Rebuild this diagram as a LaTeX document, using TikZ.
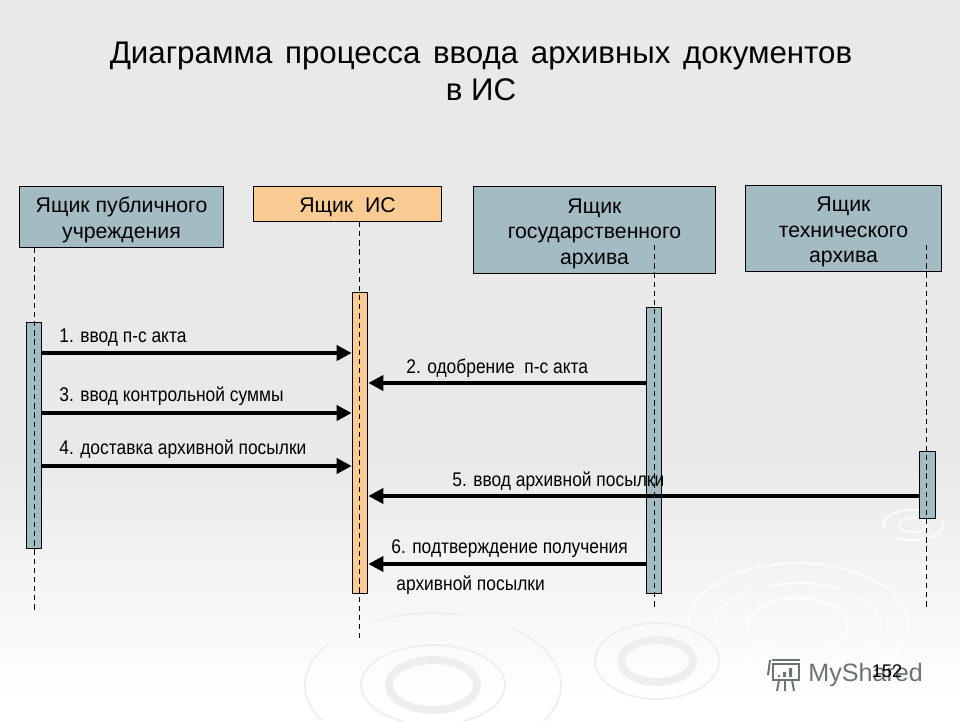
\documentclass[tikz,border=0pt]{standalone}
\usepackage{fontspec}
\usetikzlibrary{arrows.meta}
\setmainfont{Liberation Sans}
\newfontfamily\lblfont[FakeStretch=0.88]{Liberation Sans}
\definecolor{boxblue}{HTML}{A3BBC2}
\definecolor{boxorange}{HTML}{FBCB94}
\definecolor{slidegray}{HTML}{E9E9E9}
\definecolor{ringgray}{HTML}{EEEEEE}
\definecolor{logogray}{HTML}{6A7474}
\def\lowr{\rule{0pt}{12.4pt}}
\tikzset{
	box/.style={draw=black,line width=0.6pt,align=center,inner sep=0pt,font=\fontsize{12.1}{14.5}\selectfont},
	bar/.style={draw=black,line width=0.5pt,minimum width=9pt,inner sep=0pt},
	lifeline/.style={draw=black,line width=0.55pt,dash pattern=on 3pt off 2.2pt},
	msg/.style={draw=black,line width=2.8pt,-{Triangle[length=8.5pt,width=8.5pt]}},
	lbl/.style={anchor=west,inner sep=0pt,font=\lblfont\fontsize{11.25}{13}\selectfont},
	title/.style={align=center,inner sep=0pt,font=\fontsize{17.8}{21.5}\selectfont},
	ring/.style={draw=white,line width=1.3pt,line cap=round,opacity=0.75},
	softring/.style={draw=ringgray,line cap=round}
}
\begin{document}
\begin{tikzpicture}[x=0.02cm,y=-0.02cm]
	\useasboundingbox (0,0) rectangle (960,720);
	% background
	\fill[slidegray] (0,0) rectangle (960,460);
	\shade[top color=slidegray,bottom color=white] (0,460) rectangle (960,695);
	\fill[white] (0,695) rectangle (960,720);
	% ripples
	\draw[ring,dash pattern=on 60pt off 4pt] (798,625) ellipse (110 and 62);
	\draw[ring,dash pattern=on 40pt off 12pt] (798,625) ellipse (83 and 42);
	\draw[ring,line width=1.8pt] (798,625) ellipse (50 and 27);
	\draw[softring,line width=4.5pt] (657,661) ellipse (36 and 21);
	\draw[softring,line width=1pt] (657,661) ellipse (62 and 38);
	\draw[ring,dash pattern=on 30pt off 10pt] (913,525) ellipse (30 and 15);
	\draw[ring,line width=1pt] (913,525) ellipse (14 and 7);
	\draw[softring,line width=4.5pt] (433,685) ellipse (44 and 25);
	\draw[softring,line width=1pt] (433,685) ellipse (72 and 40);
	\draw[softring,line width=1pt,dash pattern=on 50pt off 30pt] (433,685) ellipse (128 and 72);
	% boxes
	\node[box,fill=boxblue,minimum width=116.2pt,minimum height=35.1pt] (boxPub) at (121.5,217) {\lowr Ящик публичного\\учреждения};
	\node[box,fill=boxorange,minimum width=107.1pt,minimum height=20.4pt] (boxIS) at (347.5,204) {\lowr Ящик\ \ ИС};
	\node[box,fill=boxblue,minimum width=137.8pt,minimum height=49.9pt] (boxState) at (594.5,230) {\lowr Ящик\\государственного\\архива};
	\node[box,fill=boxblue,minimum width=111.7pt,minimum height=49.3pt] (boxTech) at (843.5,228.5) {\lowr Ящик\\технического\\архива};
	% bars
	\node[bar,fill=boxblue,minimum height=128.7pt] (barPub) at (34,435.5) {};
	\node[bar,fill=boxorange,minimum height=171.2pt] (barIS) at (360,443) {};
	\node[bar,fill=boxblue,minimum height=162.7pt] (barState) at (654,450.5) {};
	\node[bar,fill=boxblue,minimum height=38.6pt] (barTech) at (927.5,485) {};
	% lifelines
	\coordinate (topPub) at (34,248);
	\coordinate (endPub) at (34,610);
	\coordinate (topIS) at (359,222);
	\coordinate (endIS) at (359,640);
	\coordinate (topState) at (654,245);
	\coordinate (endState) at (654,610);
	\coordinate (topTech) at (926,245);
	\coordinate (endTech) at (926,610);
	\draw[lifeline] (topPub) -- (endPub);
	\draw[lifeline] (topIS) -- (endIS);
	\draw[lifeline] (topState) -- (endState);
	\draw[lifeline] (topTech) -- (endTech);
	% messages
	\coordinate (y1) at (0,353);
	\coordinate (y2) at (0,383);
	\coordinate (y3) at (0,413);
	\coordinate (y4) at (0,466);
	\coordinate (y5) at (0,496);
	\coordinate (y6) at (0,564);
	\draw[msg] (barPub.east |- y1) -- (barIS.west |- y1);
	\draw[msg] (barState.west |- y2) -- (barIS.east |- y2);
	\draw[msg] (barPub.east |- y3) -- (barIS.west |- y3);
	\draw[msg] (barPub.east |- y4) -- (barIS.west |- y4);
	\draw[msg] (barTech.west |- y5) -- (barIS.east |- y5);
	\draw[msg] (barState.west |- y6) -- (barIS.east |- y6);
	% labels
	\node[lbl] (lbl1) at (59,338) {1. ввод п-с акта};
	\node[lbl] (lbl2) at (406,368) {2. одобрение\ \ п-с акта};
	\node[lbl] (lbl3) at (59,396) {3. ввод контрольной суммы};
	\node[lbl] (lbl4) at (59,449) {4. доставка архивной посылки};
	\node[lbl] (lbl5) at (452,481) {5. ввод архивной посылки};
	\node[lbl] (lbl6) at (391,549) {6. подтверждение получения};
	\node[lbl] (lbl7) at (396,585) {архивной посылки};
	% title
	\node[title] (titleMain) at (481,71.5) {\spaceskip=7.2pt Диаграмма процесса ввода архивных документов\\в ИС};
	% logo and page number
	\node[anchor=west,inner sep=0pt,text=logogray,font=\fontsize{14.3}{17}\selectfont] (logoText) at (808,675) {MyShared};
	\draw[logogray,line width=1.1pt] (773,664) rectangle (799,680);
	\draw[logogray,line width=1.1pt] (772,660) -- (800,660);
	\draw[logogray,line width=1.1pt] (770,660) -- (768,675);
	\draw[logogray,line width=1.1pt] (779,680) -- (777,691) (785,680) -- (785,691) (792,680) -- (794,691);
	\fill[logogray] (778,675) rectangle (780,677) (783,672) rectangle (786,677) (789,668) rectangle (792,677);
	\node[inner sep=0pt,font=\fontsize{10.4}{12}\selectfont] (pageNo) at (887,671) {152};
\end{tikzpicture}
\end{document}
